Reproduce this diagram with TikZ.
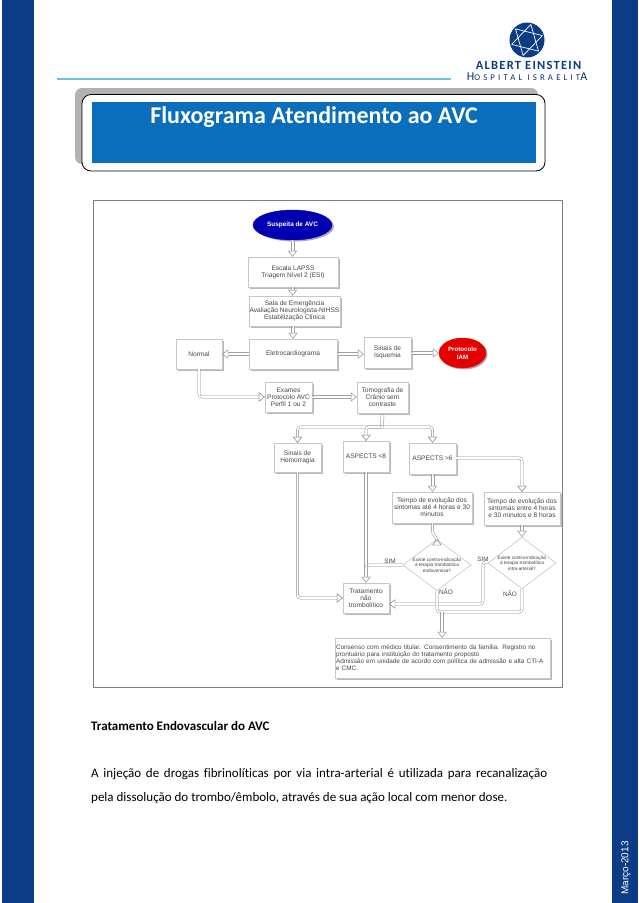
\documentclass[tikz,border=0pt]{standalone}
\usepackage{fontspec}
\setmainfont[Ligatures={TeX,NoCommon}]{Carlito}
\newfontfamily\arialf{Liberation Sans}
\usetikzlibrary{shapes.geometric,arrows.meta,calc}
\definecolor{navy}{HTML}{0B3C85}
\definecolor{hdrblue}{HTML}{0A6EBD}
\definecolor{rulecol}{HTML}{6EC1E4}
\definecolor{flowline}{HTML}{8A8A8A}
\tikzset{
  fbox/.style={draw=black!22,fill=white,line width=.4pt,align=center,inner sep=0pt,
    font=\arialf\fontsize{6.6}{6.9}\selectfont,text=black!72},
  hline/.style={preaction={draw=flowline,line width=2.6pt},draw=white,line width=1.7pt,rounded corners=3pt},
  harrow/.style={hline,-{Triangle[color=flowline,fill=white,length=6pt,width=9pt,line width=.45pt]}},
  sside/.style={draw=flowline!80,line width=.5pt},
  tiponly/.style={draw=white,line width=.8pt,-{Triangle[color=flowline,fill=white,length=6pt,width=9pt,line width=.45pt]}},
  lab/.style={font=\arialf\fontsize{6.4}{7}\selectfont,text=black!70,inner sep=0pt},
  shad/.style={fill=black!28},
  dia/.style={diamond,draw=black!30,fill=white,inner sep=0pt,align=center,
    font=\arialf\fontsize{4.7}{5.6}\selectfont,text=black!75},
}
\newcommand{\fnode}[6]{% name, x1,y1,x2,y2, text
  \fill[shad] (#2+2,#3+2) rectangle (#4+2,#5+2);
  \node[fbox,minimum width=#4pt-#2pt,minimum height=#5pt-#3pt] (#1) at ({(#2+#4)/2},{(#3+#5)/2}) {#6};}
% straight hollow arrows: two side lines, then the head
\newcommand{\varr}[2]{%
  \draw[sside,shorten >=4pt] ([xshift=-1.5pt]#1) -- ([xshift=-1.5pt]#2);
  \draw[sside,shorten >=4pt] ([xshift=1.5pt]#1) -- ([xshift=1.5pt]#2);
  \draw[tiponly] (#1) -- (#2);}
\newcommand{\harr}[2]{%
  \draw[sside,shorten >=4pt] ([yshift=-1.5pt]#1) -- ([yshift=-1.5pt]#2);
  \draw[sside,shorten >=4pt] ([yshift=1.5pt]#1) -- ([yshift=1.5pt]#2);
  \draw[tiponly] (#1) -- (#2);}
\begin{document}
\begin{tikzpicture}[x=1pt,y=-1pt]
\useasboundingbox (0,0) rectangle (638,903);
\fill[white] (0,0) rectangle (638,903);
% bands
\fill[navy] (2,0) rectangle (34,903);
\fill[navy] (612,0) rectangle (638,903);
\node[rotate=90,text=white,font=\arialf\fontsize{10}{11}\selectfont,inner sep=0pt] (date) at (626,868) {Março-2013};
% header
\draw[rulecol,line width=1.4pt] (57,79) -- (451,79);
\fill[navy] (527,40) circle (17.5);
\begin{scope}[shift={(527,40)},rotate=-14]
\draw[white,line width=.7pt,line join=round] (90:16) -- (210:16) -- (330:16) -- cycle;
\draw[white,line width=.7pt,line join=round] (30:16) -- (150:16) -- (270:16) -- cycle;
\end{scope}
\node[font=\bfseries\fontsize{12.5}{13}\selectfont,text=navy,inner sep=0pt] (brand) at (528.5,65) {\addfontfeature{LetterSpace=10}ALBERT EINSTEIN};
\node[font=\fontsize{12}{12}\selectfont,text=navy!80!black,inner sep=0pt] (brand2) at (527,77) {H{\fontsize{8.8}{9}\selectfont\addfontfeature{LetterSpace=36}OSPITAL ISRAELIT}A};
% title
\fill[black!30,rounded corners=7pt] (75,88) rectangle (538,164);
\draw[black,fill=white,line width=.8pt,rounded corners=9pt] (82,94.5) rectangle (545,171);
\fill[hdrblue] (91.5,102) rectangle (536,163);
\node[text=white,font=\bfseries\fontsize{24}{26}\selectfont,inner sep=0pt] (title) at (314,117) {Fluxograma Atendimento ao AVC};
% flow frame
\draw[black!50,fill=white,line width=.8pt] (93,200) rectangle (562,687);
% nodes
\fill[black!32] (294.5,226.5) ellipse (39.5 and 15);
\node[ellipse,fill=blue!70!black,draw=blue!70!black,minimum width=79pt,minimum height=30pt,inner sep=0pt,text=white,font=\arialf\bfseries\fontsize{6.4}{8}\selectfont] (susp) at (292.5,225) {Suspeita de AVC};
\fnode{esc}{248}{257}{338}{287}{Escala LAPSS\\Triagem Nível 2 (ESI)}
\fnode{sala}{249}{296}{340}{326}{Sala de Emergência\\Avaliação Neurologista-NIHSS\\Estabilização Clínica}
\fnode{ecg}{249}{339}{337}{369}{Eletrocardiograma}
\fnode{norm}{176}{339}{222}{369}{Normal}
\fnode{isq}{364}{337}{411}{368}{Sinais de\\Isquemia}
\fill[black!32] (464,354.5) ellipse (23.5 and 15);
\node[ellipse,fill=red!90!black,draw=red!90!black,minimum width=47pt,minimum height=30pt,inner sep=0pt,align=center,text=white,font=\arialf\bfseries\fontsize{6.2}{7.5}\selectfont] (iam) at (462.5,353) {Protocolo\\IAM};
\fnode{exa}{265}{382}{312}{412}{Exames\\Protocolo AVC\\Perfil 1 ou 2}
\fnode{tomo}{357}{382}{408}{413}{Tomografia de\\Crânio sem\\contraste}
\fnode{hem}{274}{443}{321}{472}{Sinais de\\Hemorragia}
\fnode{asp8}{343}{441}{389}{472}{ASPECTS <8}
\fnode{asp6}{409}{443}{456}{474}{ASPECTS >6}
\fnode{t1}{392}{492}{472}{523}{Tempo de evolução dos\\sintomas até 4 horas e 30\\minutos}
\fnode{t2}{484}{492}{560}{525}{Tempo de evolução dos\\sintomas entre  4 horas\\e 30 minutos e 8 horas}
\fnode{trat}{343}{583}{389}{613}{Tratamento\\não\\trombolítico}
\fill[shad] (337,640) rectangle (552,680);
\node[fbox,font=\arialf\fontsize{6.4}{6.9}\selectfont,minimum width=215pt,minimum height=40pt,text width=213pt,align=left] (cons) at (442.5,658) {Consenso com médico titular. Consentimento da família.  Registro no\\prontuário para instituição do tratamento proposto\\Admissão em unidade de acordo com política de admissão e alta CTI-A\\e CMC.};
\node[dia,minimum width=56pt,minimum height=42pt,aspect=1.33] (d1) at (437,565) {Existe contra-indicação\\à terapia trombolítica\\endovenosa?};
\node[dia,minimum width=55pt,minimum height=42pt,aspect=1.31] (d2) at (522,563) {Existe contra-indicação\\à terapia trombolítica\\intra-arterial?};
% connectors
\varr{susp.south}{esc.north -| susp.south}
\varr{esc.south -| susp.south}{sala.north -| susp.south}
\varr{sala.south -| ecg.north}{ecg.north}
\harr{ecg.west}{norm.east}
\harr{ecg.east}{isq.west |- ecg.east}
\harr{isq.east |- iam.west}{iam.west}
\coordinate (nb) at (norm.south |- exa.west);
\draw[harrow] (norm.south) -- (nb) -- (exa.west);
\harr{exa.east}{tomo.west |- exa.east}
\coordinate (tb) at (382,427);
\coordinate (tl) at (hem.north |- tb);
\coordinate (tm) at (asp8.north |- tb);
\coordinate (tr) at (asp6.north |- tb);
\draw[harrow] (tb) -- (tl) -- (hem.north);
\draw[harrow] (tb) -- (tm) -- (asp8.north);
\draw[harrow] (tb) -- (tr) -- (asp6.north);
\draw[sside] ([xshift=-1.5pt]tomo.south) -- ([xshift=-1.5pt]tb);
\draw[sside] ([xshift=1.5pt]tomo.south) -- ([xshift=1.5pt]tb);
\coordinate (hb) at (hem.south |- trat.west);
\draw[harrow] (hem.south) -- (hb) -- (trat.west);
\coordinate (sj) at (366,565);
\draw[hline] (d1.west) -- (sj) -- (366,573);
\varr{asp8.south}{trat.north}
\coordinate (ar) at (t2.north |- 0,458);
\draw[harrow] (asp6.east |- ar) -- (ar) -- (t2.north);
\varr{asp6.south}{t1.north -| asp6.south}
\coordinate (j1) at (432.5,534);
\coordinate (j2) at (437,538);
\draw[harrow] (t1.south -| j1) -- (j1) -- (j2) -- (d1.north);
\varr{t2.south}{d2.north}
\coordinate (s2a) at (483,562);
\coordinate (s2b) at (483,604);
\draw[harrow] (d2.west |- s2a) -- (s2a) -- (s2b) -- (trat.east |- s2b);
\coordinate (dj) at (442,612);
\draw[hline] (d2.south) -- (d2.south |- dj) -- (dj);
\draw[hline] (d1.south) -- (d1.south |- dj) -- (dj);
\varr{dj}{cons.north -| dj}
\node[lab] (sim1) at (390,561) {SIM};
\node[lab] (nao1) at (446,592) {NÃO};
\node[lab] (sim2) at (483,559) {SIM};
\node[lab] (nao2) at (510,594) {NÃO};
% body text
\node[anchor=base west,inner sep=0pt,font=\bfseries\fontsize{13}{15}\selectfont] (h2) at (91,730) {Tratamento Endovascular do AVC};
\node[anchor=base west,inner sep=0pt,font=\fontsize{13}{15}\selectfont] (p1) at (91,777) {\makebox[456pt][s]{A injeção de drogas fibrinolíticas por via intra-arterial é utilizada para recanalização}};
\node[anchor=base west,inner sep=0pt,font=\fontsize{13}{15}\selectfont] (p2) at (91,801) {pela dissolução do trombo/êmbolo, através de sua ação local com menor dose.};
\end{tikzpicture}
\end{document}
